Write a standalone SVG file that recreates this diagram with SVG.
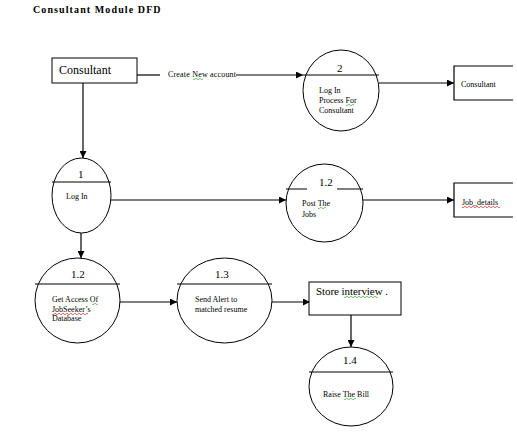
<svg xmlns="http://www.w3.org/2000/svg" width="517" height="439" viewBox="0 0 517 439">
<style>
.ln{stroke:#000;stroke-width:1.2;fill:none}
.sh{stroke:#000;stroke-width:1;fill:#fff}
.t{font-family:"Liberation Serif",serif;fill:#000}
.s{font-size:8px}
.m{font-size:11px}
.b{font-size:12px}
.sq{fill:none;stroke-width:0.7}
</style>
<defs>
<marker id="ah" viewBox="0 0 10 10" refX="10" refY="5" markerWidth="7" markerHeight="7" markerUnits="userSpaceOnUse" orient="auto">
<path d="M0,0 L10,5 L0,10 z" fill="#000"/>
</marker>
</defs>
<rect width="517" height="439" fill="#fff"/>
<text class="t" x="33" y="13" font-size="10" font-weight="bold" letter-spacing="1.1">Consultant Module DFD</text>
<g id="connectors">
<path class="ln" d="M137,75 H160"/>
<path class="ln" d="M236,75 H303" marker-end="url(#ah)"/>
<path class="ln" d="M379,83 H454" marker-end="url(#ah)"/>
<path class="ln" d="M83,83 V158" marker-end="url(#ah)"/>
<path class="ln" d="M111,200 H286" marker-end="url(#ah)"/>
<path class="ln" d="M363,200 H454" marker-end="url(#ah)"/>
<path class="ln" d="M81,233 V258" marker-end="url(#ah)"/>
<path class="ln" d="M120,302 H177" marker-end="url(#ah)"/>
<path class="ln" d="M272,302 H310" marker-end="url(#ah)"/>
<path class="ln" d="M351,315 V347" marker-end="url(#ah)"/>
<text class="t s" x="168" y="77" textLength="68">Create New account</text>
<path class="sq" stroke="#3a3" d="M193,79 q1,1.5 2,0 t2,0 t2,0 t2,0 t2,0"/>
</g>
<g id="consultant-entity">
<rect class="sh" x="52" y="58" width="85" height="25"/>
<text class="t b" x="59" y="74">Consultant</text>
</g>
<g id="p2">
<ellipse class="sh" cx="341" cy="90.5" rx="38" ry="40.5"/>
<path class="ln" d="M303,75 H379"/>
<text class="t m" x="337" y="72">2</text>
<text class="t s" x="319" y="93">Log In</text>
<text class="t s" x="319" y="103">Process For</text>
<text class="t s" x="319" y="113">Consultant</text>
<path class="sq" stroke="#3a3" d="M346,105 q1,1.5 2,0 t2,0 t2,0 t2,0"/>
</g>
<g id="store-consultant">
<path class="ln" d="M513,66 H454 V100 H513"/>
<text class="t s" x="461" y="87">Consultant</text>
</g>
<g id="p1">
<ellipse class="sh" cx="81.5" cy="195.5" rx="29.5" ry="37.5"/>
<path class="ln" d="M52,182 H111"/>
<text class="t m" x="78" y="178">1</text>
<text class="t s" x="66" y="199">Log In</text>
</g>
<g id="p12-post">
<ellipse class="sh" cx="324.5" cy="203" rx="38.5" ry="39"/>
<path class="ln" d="M286,189 H307 M337,189 H363"/>
<text class="t m" x="319" y="186">1.2</text>
<text class="t s" x="302" y="206">Post The</text>
<text class="t s" x="302" y="217">Jobs</text>
<path class="sq" stroke="#3a3" d="M318,208 q1,1.5 2,0 t2,0 t2,0 t2,0"/>
</g>
<g id="store-job-details">
<path class="ln" d="M513,183 H454 V217 H513"/>
<text class="t s" x="462" y="205">Job_details</text>
<path class="sq" stroke="#d22" d="M462,207 q1,1.5 2,0 t2,0 t2,0 t2,0 t2,0 t2,0 t2,0 t2,0 t2,0 t2,0 t2,0 t2,0 t2,0 t2,0 t2,0 t2,0 t2,0 t2,0 t2,0"/>
</g>
<g id="p12-access">
<ellipse class="sh" cx="77.5" cy="300.5" rx="42.5" ry="42.5"/>
<path class="ln" d="M35,284 H120"/>
<text class="t m" x="71" y="278">1.2</text>
<text class="t s" x="52" y="302">Get Access Of</text>
<text class="t s" x="52" y="312">JobSeeker’s</text>
<text class="t s" x="52" y="321">Database</text>
<path class="sq" stroke="#3a3" d="M92,304 q1,1.5 2,0 t2,0 t2,0"/>
<path class="sq" stroke="#d22" d="M52,314 q1,1.5 2,0 t2,0 t2,0 t2,0 t2,0 t2,0 t2,0 t2,0 t2,0 t2,0 t2,0 t2,0 t2,0 t2,0 t2,0 t2,0 t2,0 t2,0"/>
</g>
<g id="p13">
<ellipse class="sh" cx="224.5" cy="300.5" rx="47.5" ry="42.5"/>
<path class="ln" d="M177,284 H272"/>
<text class="t m" x="215" y="278">1.3</text>
<text class="t s" x="195" y="302">Send Alert to</text>
<text class="t s" x="195" y="312">matched resume</text>
</g>
<g id="store-interview">
<rect class="sh" x="309" y="282" width="92" height="33"/>
<text class="t" font-size="11" x="316" y="295" textLength="72">Store interview .</text>
<path class="sq" stroke="#3a3" d="M344,297 q1,1.5 2,0 t2,0 t2,0 t2,0 t2,0 t2,0 t2,0 t2,0 t2,0 t2,0 t2,0 t2,0 t2,0 t2,0 t2,0 t2,0 t2,0"/>
</g>
<g id="p14">
<ellipse class="sh" cx="351" cy="386.5" rx="42" ry="39.5"/>
<path class="ln" d="M309,372 H393"/>
<text class="t m" x="343" y="364">1.4</text>
<text class="t s" x="323" y="397">Raise The Bill</text>
<path class="sq" stroke="#3a3" d="M344,399 q1,1.5 2,0 t2,0 t2,0 t2,0 t2,0 t2,0"/>
</g>
</svg>
